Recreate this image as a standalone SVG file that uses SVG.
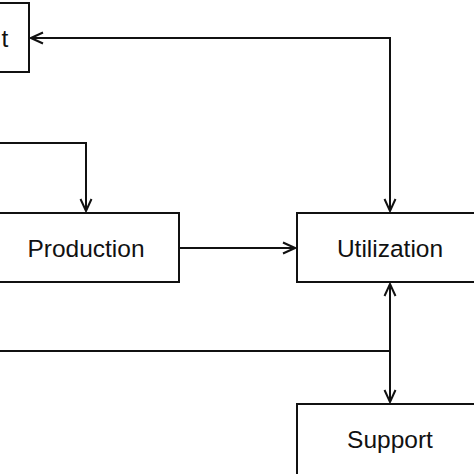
<svg xmlns="http://www.w3.org/2000/svg" width="474" height="474" viewBox="0 0 474 474">
<style>
.box{fill:#fff;stroke:#111;stroke-width:2}
.lbl{font-family:"Liberation Sans",Arial,sans-serif;font-size:24.5px;fill:#111;text-anchor:middle}
.ln{fill:none;stroke:#111;stroke-width:2}
</style>
<defs>
<marker id="ah" viewBox="0 0 14 14" refX="13" refY="7" markerWidth="14" markerHeight="14" markerUnits="userSpaceOnUse" orient="auto-start-reverse">
<path d="M1,1.5 L13,7 L1,12.5" fill="none" stroke="#111" stroke-width="2"/>
</marker>
</defs>
<rect width="474" height="474" fill="#fff"/>
<g id="connectors">
<path class="ln" d="M390,211 L390,38 L31,38" marker-start="url(#ah)" marker-end="url(#ah)"/>
<path class="ln" d="M0,143 L86,143 L86,211" marker-end="url(#ah)"/>
<path class="ln" d="M180,248 L295,248" marker-end="url(#ah)"/>
<path class="ln" d="M390,284 L390,402" marker-start="url(#ah)" marker-end="url(#ah)"/>
<path class="ln" d="M0,351 L390,351"/>
</g>
<g id="node-top">
<rect class="box" x="-40" y="3" width="69" height="69"/>
<text class="lbl" x="5" y="47">t</text>
</g>
<g id="node-production">
<rect class="box" x="-40" y="213" width="219" height="69"/>
<text class="lbl" x="86" y="257">Production</text>
</g>
<g id="node-utilization">
<rect class="box" x="297" y="213" width="200" height="69"/>
<text class="lbl" x="390" y="257">Utilization</text>
</g>
<g id="node-support">
<rect class="box" x="297" y="404" width="200" height="80"/>
<text class="lbl" x="390" y="448">Support</text>
</g>
</svg>
